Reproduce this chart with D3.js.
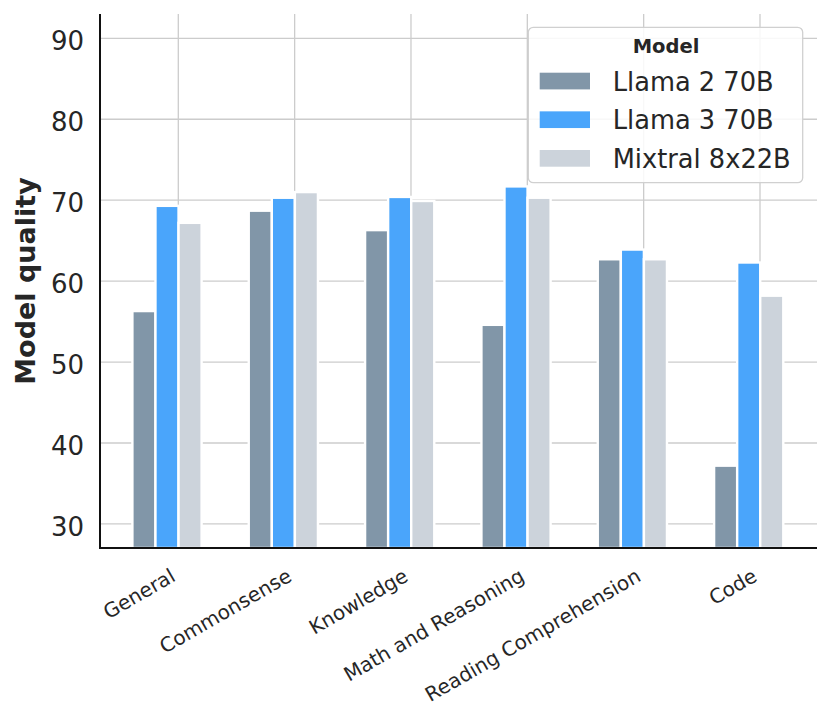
<!DOCTYPE html>
<html lang="en">
  <head>
    <meta charset="utf-8">
    <script src="https://d3js.org/d3.v7.min.js"></script>
    <title>Model quality</title>
    <style>
      body { margin: 0; background: #fff; }
      svg text { font-family: "DejaVu Sans", sans-serif; fill: #262626; }
      .grid line { stroke: #cccccc; stroke-width: 1.3; }
    </style>
  </head>
  <body>
    <script>

      // data
      var categories = ["General", "Commonsense", "Knowledge", "Math and Reasoning", "Reading Comprehension", "Code"];
      var models = ["Llama 2 70B", "Llama 3 70B", "Mixtral 8x22B"];
      var llama2 = [56.3, 68.7, 66.3, 54.6, 62.7, 37.2];
      var llama3 = [69.3, 70.3, 70.4, 71.7, 63.9, 62.3];
      var mixtral = [67.2, 71.0, 69.9, 70.3, 62.7, 58.2];
      var yTicks = [30, 40, 50, 60, 70, 80, 90];
      var colors = ["#8196a8", "#4aa5fb", "#ccd3db"];

      var series = [llama2, llama3, mixtral];

      var width = 830, height = 716;
      var plotLeft = 100, plotRight = 817, plotTop = 14, plotBottom = 548;

      var svg = d3.select("body").append("svg")
        .attr("width", width).attr("height", height);

      // scales
      var y = d3.scaleLinear().domain([27.03, 93.0]).range([plotBottom, plotTop]);
      var x = d3.scalePoint().domain(categories).range([178.3, 760]);
      var xSub = d3.scaleBand().domain(models).range([-45.9, 23.3]);
      var color = d3.scaleOrdinal().domain(models).range(colors);

      // grid
      var grid = svg.append("g").attr("class", "grid");
      grid.selectAll("line.h").data(yTicks).enter().append("line")
        .attr("x1", plotLeft).attr("x2", plotRight)
        .attr("y1", function(d){ return y(d); })
        .attr("y2", function(d){ return y(d); });
      grid.selectAll("line.v").data(categories).enter().append("line")
        .attr("y1", plotTop).attr("y2", plotBottom)
        .attr("x1", function(d){ return x(d); })
        .attr("x2", function(d){ return x(d); });

      // bars
      var groups = svg.selectAll("g.model").data(models).enter().append("g")
        .attr("class", "model")
        .style("fill", function(d){ return color(d); });

      groups.selectAll("rect").data(function(m, i){
          return categories.map(function(c, k){ return {cat: c, model: m, value: series[i][k]}; });
        })
        .enter().append("rect")
        .attr("x", function(d){ return x(d.cat) + xSub(d.model); })
        .attr("width", xSub.bandwidth())
        .attr("y", function(d){ return y(d.value); })
        .attr("height", function(d){ return plotBottom - y(d.value); })
        .attr("stroke", "#fff")
        .attr("stroke-width", 2.4);

      // Y axis
      var yAxis = d3.axisLeft(y).tickValues(yTicks).tickSize(0).tickPadding(16);
      var gy = svg.append("g").attr("transform", "translate(" + plotLeft + ",0)").call(yAxis);
      gy.select(".domain").remove();
      gy.selectAll("text").style("font-size", "26px").attr("dy", "0.43em");

      // X axis
      var xAxis = d3.axisBottom(x).tickSize(0);
      var gx = svg.append("g").attr("transform", "translate(0," + plotBottom + ")").call(xAxis);
      gx.select(".domain").remove();
      gx.selectAll("text")
        .style("font-size", "20px")
        .attr("text-anchor", "end")
        .attr("y", 0).attr("dy", 0)
        .attr("transform", "translate(-2,32) rotate(-30)");

      // spines
      svg.append("line").attr("x1", plotLeft).attr("x2", plotLeft).attr("y1", plotTop).attr("y2", plotBottom + 1)
        .attr("stroke", "#111").attr("stroke-width", 2);
      svg.append("line").attr("x1", plotLeft - 1).attr("x2", plotRight).attr("y1", plotBottom).attr("y2", plotBottom)
        .attr("stroke", "#111").attr("stroke-width", 2);

      // Y label
      svg.append("text")
        .attr("transform", "translate(35," + (plotTop + plotBottom) / 2 + ") rotate(-90)")
        .attr("text-anchor", "middle")
        .style("font-size", "27px").style("font-weight", "bold")
        .text("Model quality");

      // legend
      var legend = svg.append("g").attr("transform", "translate(528.3,27.3)");
      legend.append("rect").attr("width", 274.4).attr("height", 155.4).attr("rx", 5)
        .attr("fill", "#fff").attr("fill-opacity", 0.85)
        .attr("stroke", "#d0d0d0").attr("stroke-width", 1.3);
      legend.append("text").attr("x", 137.7).attr("y", 26)
        .attr("text-anchor", "middle")
        .style("font-size", "19.5px").style("font-weight", "bold")
        .text("Model");
      var item = legend.selectAll("g.item").data(models).enter().append("g")
        .attr("class", "item")
        .attr("transform", function(d, i){ return "translate(0," + (45.4 + i * 38.65) + ")"; });
      item.append("rect").attr("x", 11.4).attr("width", 50.3).attr("height", 16.7)
        .attr("fill", function(d){ return color(d); });
      item.append("text").attr("x", 84.4).attr("y", 18)
        .style("font-size", "25.7px")
        .text(function(d){ return d; });

    </script>
  </body>
</html>
